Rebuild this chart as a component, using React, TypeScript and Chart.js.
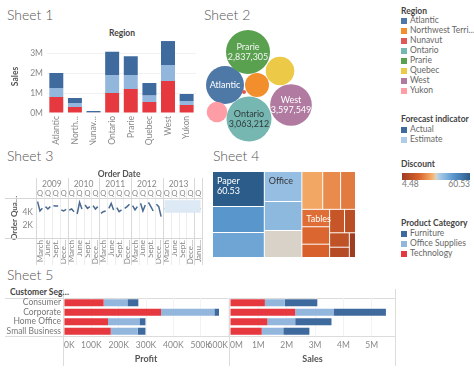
import React, { useEffect, useRef } from "react";
import { Chart, registerables } from "chart.js";
Chart.register(...registerables);

const FONT = "Lato, 'Open Sans', 'DejaVu Sans', sans-serif";
Chart.defaults.font.family = FONT;
Chart.defaults.color = "#888";

// ---------- colours ----------
const COLOR_TECH = "#e6393f";
const COLOR_OFFICE = "#93b6dd";
const COLOR_FURN = "#3f6a9e";
const regionColors = ["#4e79a7", "#f28e2b", "#e15759", "#76b7b2", "#59a14f", "#edc948", "#b07aa1", "#ff9da7"];

// ---------- Sheet 1 : sales by region ----------
const regionNames = ["Atlantic", "Northwest Territories", "Nunavut", "Ontario", "Prarie", "Quebec", "West", "Yukon"];
const regionLegendNames = ["Atlantic", "Northwest Terri…", "Nunavut", "Ontario", "Prarie", "Quebec", "West", "Yukon"];
const regionAxisLabels = ["Atlantic", "North…", "Nunav…", "Ontario", "Prarie", "Quebec", "West", "Yukon"];
const regionTechnology = [800000, 300000, 20000, 1000000, 1200000, 550000, 1600000, 400000];
const regionOfficeSupplies = [450000, 200000, 20000, 900000, 700000, 320000, 800000, 200000];
const regionFurniture = [750000, 250000, 60000, 1163212, 937305, 630000, 1197549, 350000];
const salesTicks = [0, 1000000, 2000000, 3000000];

// ---------- Sheet 2 : packed bubbles ----------
const bubbleSizeMeasure = [361, 144, 4, 506, 484, 204, 433, 106];
const bubblePackX = [25, 57, 44, 49, 48, 80, 91, 17];
const bubblePackY = [60, 60, 67, 94, 27, 46, 80, 87];
const bubbleLabelMode = ["name", "", "", "value", "value", "", "value", ""];
const bubbleTextColor = ["#fff", "#fff", "#fff", "#2f3b3b", "#f4f4f4", "#fff", "#fff", "#fff"];

// ---------- Sheet 3 : order quantity by month ----------
const orderYears = ["2009", "2010", "2011", "2012", "2013"];
const quarterHeaders = ["Q", "Q", "Q", "Q", "Q", "Q", "Q", "Q", "Q", "Q", "Q", "Q", "Q", "Q", "Q", "Q", "Q", "Q", "Q", "Q", "Q"];
const paneLabels = [
  "March", "June", "Sept.", "Dece…", "March", "June", "Sept.", "Dece…", "March", "June", "Sept.", "Dece…",
  "March", "June", "Sept.", "Dece…", "March", "June", "Sept.", "Dece…", "Janu…",
];
const orderQuantity = [
  5590, 4150, 4560, 4820, 4460, 4820, 4970, 4920, 4920, 4310, 4150, 4410,
  4310, 4460, 4050, 3690, 5490, 4460, 5080, 4560, 4820, 4970, 4460, 4820,
  3790, 4050, 4150, 4560, 5330, 4310, 4670, 4050, 4310, 4560, 4820, 5180,
  4970, 4310, 4820, 5330, 4150, 5080, 5490, 4820, 4150, 5180, 4820, 3280,
];
const forecastQuantity = [4520, 4500, 4510, 4500, 4490, 4500, 4510, 4500, 4500, 4500, 4510, 4500, 4500, 4500, 4500];
const forecastUpper = [5800, 5800, 5800, 5800, 5800, 5800, 5800, 5800, 5800, 5800, 5800, 5800, 5800, 5800, 5800];
const forecastLower = [3900, 3900, 3900, 3900, 3900, 3900, 3900, 3900, 3900, 3900, 3900, 3900, 3900, 3900, 3900];
const qtyTicks = [2000, 4000];

// ---------- Sheet 4 : treemap ----------
const treeLabels = ["Paper", "", "", "Office", "", "", "", "", "", "Tables", "", "", "", "", "", "", ""];
const treeSize = [1785, 1326, 1275, 1110, 1073, 999, 777, 666, 555, 476, 476, 364, 345, 253, 280, 200, 150];
const treeDiscount = [60.53, 47.1, 43.7, 38.1, 39.2, 32.5, 28.0, 24.1, 21.9, 20.2, 19.1, 17.9, 14.0, 11.2, 12.3, 10.1, 4.48];
const treeShowValue = [true, false, false, false, false, false, false, false, false, false, false, false, false, false, false, false, false];
const treeStructure: any = {
  dir: "h",
  kids: [
    { dir: "v", kids: [0, 1, 2] },
    { dir: "v", kids: [3, 4, 5] },
    {
      dir: "v",
      kids: [
        { dir: "h", kids: [6, 7, 8] },
        {
          dir: "h",
          kids: [
            { dir: "v", kids: [9, 10, 11] },
            { dir: "v", kids: [{ dir: "h", kids: [12, 13] }, { dir: "h", kids: [{ dir: "v", kids: [14, 15] }, 16] }] },
          ],
        },
      ],
    },
  ],
};
const discountStops = [0, 0.25, 0.45, 0.5, 0.55, 0.75, 1];
const discountStopColors = ["#9e3d22", "#d9622b", "#f7b46e", "#d8d2c8", "#a9cbe8", "#5b98cf", "#2b5c8a"];
const DISCOUNT_MIN = Math.min(...treeDiscount);
const DISCOUNT_MAX = Math.max(...treeDiscount);

// ---------- Sheet 5 : segments ----------
const segments = ["Consumer", "Corporate", "Home Office", "Small Business"];
const profitTechnology = [145000, 355000, 161000, 171000];
const profitOfficeSupplies = [87000, 195000, 115000, 99000];
const profitFurniture = [40000, 17000, 22000, 28000];
const salesTechnology = [1230000, 2300000, 1320000, 1120000];
const salesOfficeSupplies = [700000, 1350000, 980000, 760000];
const salesFurniture = [1150000, 1850000, 1280000, 920000];
const profitTicks = [0, 100000, 200000, 300000, 400000, 500000, 600000];
const segSalesTicks = [0, 1000000, 2000000, 3000000, 4000000, 5000000, 5820000];

// ---------- helpers ----------
function hexToRgb(h: string) {
  const n = parseInt(h.slice(1), 16);
  return [(n >> 16) & 255, (n >> 8) & 255, n & 255];
}
function discountColor(d: number) {
  const t = Math.max(0, Math.min(1, (d - DISCOUNT_MIN) / (DISCOUNT_MAX - DISCOUNT_MIN)));
  for (let i = 1; i < discountStops.length; i++) {
    if (t <= discountStops[i]) {
      const f = (t - discountStops[i - 1]) / (discountStops[i] - discountStops[i - 1]);
      const a = hexToRgb(discountStopColors[i - 1]);
      const b = hexToRgb(discountStopColors[i]);
      return `rgb(${a.map((v, k) => Math.round(v + (b[k] - v) * f)).join(",")})`;
    }
  }
  return discountStopColors[discountStopColors.length - 1];
}

function ChartCanvas({ left, top, width, height, config }: any) {
  const ref = useRef<HTMLCanvasElement>(null);
  useEffect(() => {
    const chart = new Chart(ref.current as HTMLCanvasElement, config());
    return () => chart.destroy();
  }, []);
  return <canvas ref={ref} width={width} height={height} style={{ position: "absolute", left, top, width, height }} />;
}

function T({ x, y, s = 9, w = 400, c = "#666", align = "left", children }: any) {
  const style: any = {
    position: "absolute",
    top: y - s * 0.56,
    fontSize: s,
    lineHeight: `${s}px`,
    fontWeight: w,
    color: c,
    whiteSpace: "nowrap",
    fontFamily: FONT,
  };
  if (align === "left") style.left = x;
  else if (align === "right") style.right = 474 - x;
  else {
    style.left = x;
    style.transform = "translateX(-50%)";
  }
  return <div style={style}>{children}</div>;
}

function Line({ x, y, w, h, c = "#dcdcdc" }: any) {
  return <div style={{ position: "absolute", left: x, top: y, width: w, height: h, background: c }} />;
}

const noPlugins = { legend: { display: false }, tooltip: { enabled: false } };
const TICK = 8.5;

// ---------- Sheet 1 ----------
const sheet1Config = () => ({
  type: "bar",
  data: {
    labels: regionAxisLabels,
    datasets: [
      { label: "Technology", data: regionTechnology, backgroundColor: COLOR_TECH },
      { label: "Office Supplies", data: regionOfficeSupplies, backgroundColor: COLOR_OFFICE },
      { label: "Furniture", data: regionFurniture, backgroundColor: COLOR_FURN },
    ],
  },
  options: {
    responsive: false,
    animation: false,
    layout: { padding: { top: 12, right: 3, left: 0, bottom: 0 }, autoPadding: false },
    plugins: noPlugins,
    datasets: { bar: { barPercentage: 0.75, categoryPercentage: 1 } },
    scales: {
      x: {
        stacked: true,
        grid: { display: false, drawTicks: false },
        border: { display: false },
        ticks: { autoSkip: false, minRotation: 90, maxRotation: 90, padding: 3, font: { size: TICK }, color: "#888" },
        afterFit: (s: any) => { s.height = 32; },
      },
      y: {
        stacked: true,
        min: 0,
        max: 3650000,
        afterBuildTicks: (s: any) => { s.ticks = salesTicks.map((v) => ({ value: v })); },
        ticks: { callback: (v: any) => v / 1e6 + "M", font: { size: TICK }, color: "#888", padding: 4 },
        grid: { color: (ctx: any) => (ctx.tick && ctx.tick.value > 0 ? "#f1f1f1" : "transparent"), drawTicks: false },
        border: { display: false },
        title: { display: true, text: "Sales", font: { size: 8.5, weight: "bold" }, color: "#555", padding: { top: 10, bottom: 0 } },
        afterFit: (s: any) => { s.width = 47; },
      },
    },
  },
});

// ---------- Sheet 2 ----------
const bubbleLabelPlugin = {
  id: "bubbleLabels",
  afterDatasetsDraw(chart: any) {
    const { ctx } = chart;
    const meta = chart.getDatasetMeta(0);
    ctx.save();
    ctx.textAlign = "center";
    ctx.textBaseline = "middle";
    ctx.font = `9px ${FONT}`;
    meta.data.forEach((el: any, i: number) => {
      const mode = bubbleLabelMode[i];
      if (!mode) return;
      ctx.fillStyle = bubbleTextColor[i];
      if (mode === "name") {
        ctx.fillText(regionNames[i], el.x, el.y);
      } else {
        const total = regionTechnology[i] + regionOfficeSupplies[i] + regionFurniture[i];
        ctx.fillText(regionNames[i], el.x, el.y - 5);
        ctx.fillText(total.toLocaleString("en-US"), el.x, el.y + 5.5);
      }
    });
    ctx.restore();
  },
};
const sheet2Config = () => ({
  type: "bubble",
  data: {
    datasets: [
      {
        data: regionNames.map((_, i) => ({ x: bubblePackX[i], y: bubblePackY[i], r: Math.sqrt(bubbleSizeMeasure[i]) })),
        backgroundColor: regionColors,
        borderWidth: 0,
        clip: false,
      },
    ],
  },
  options: {
    responsive: false,
    animation: false,
    layout: { padding: 0, autoPadding: false },
    plugins: noPlugins,
    scales: {
      x: { type: "linear", min: 0, max: 170, display: false },
      y: { type: "linear", min: 0, max: 120, reverse: true, display: false },
    },
  },
  plugins: [bubbleLabelPlugin],
});

// ---------- Sheet 3 ----------
const sheet3Decor = {
  id: "sheet3Decor",
  beforeDatasetsDraw(chart: any) {
    const { ctx, chartArea: a } = chart;
    const x = chart.scales.x;
    ctx.save();
    ctx.lineWidth = 1;
    for (let i = 0; i <= paneLabels.length; i++) {
      const px = Math.round(x.getPixelForValue(i)) + 0.5;
      const isYear = i % 4 === 0 || i === paneLabels.length;
      ctx.strokeStyle = isYear ? "#d9d9d9" : "#ededed";
      ctx.beginPath();
      ctx.moveTo(px, isYear ? 13 : 23);
      ctx.lineTo(px, chart.height);
      ctx.stroke();
    }
    ctx.strokeStyle = "#d6d6d6";
    [a.top, a.bottom].forEach((yy: number) => {
      const py = Math.round(yy) + 0.5;
      ctx.beginPath();
      ctx.moveTo(5, py);
      ctx.lineTo(a.right, py);
      ctx.stroke();
    });
    ctx.textAlign = "center";
    ctx.textBaseline = "middle";
    ctx.fillStyle = "#555";
    ctx.font = `bold 8.5px ${FONT}`;
    ctx.fillText("Order Date", (a.left + a.right) / 2, 9);
    ctx.font = `8.5px ${FONT}`;
    ctx.fillStyle = "#888";
    orderYears.forEach((yr, j) => ctx.fillText(yr, x.getPixelForValue(j * 4 + 2), 19.5));
    ctx.font = `7.5px ${FONT}`;
    quarterHeaders.forEach((q, i) => ctx.fillText(q, x.getPixelForValue(i + 0.5), 28.5));
    ctx.restore();
  },
};
const sheet3Config = () => {
  const actual: any[] = [];
  orderQuantity.forEach((v, i) => {
    const p = Math.floor(i / 3);
    const m = i % 3;
    actual.push({ x: p + 0.2 + m * 0.3, y: v });
    if (m === 2) actual.push({ x: p + 0.95, y: null });
  });
  const fx = (i: number) => 16 + Math.floor(i / 3) + 0.2 + (i % 3) * 0.3;
  const fLine = forecastQuantity.map((v, i) => ({ x: fx(i), y: v }));
  const fUp = forecastUpper.map((v, i) => ({ x: fx(i), y: v }));
  const fLo = forecastLower.map((v, i) => ({ x: fx(i), y: v }));
  return {
    type: "line",
    data: {
      datasets: [
        { data: fLo, borderWidth: 0, pointRadius: 0, fill: false, borderColor: "transparent" },
        { data: fUp, borderWidth: 0, pointRadius: 0, fill: "-1", backgroundColor: "#dde9f5", borderColor: "transparent" },
        { data: fLine, borderColor: "#8fb3d9", borderWidth: 1.5, borderDash: [3, 2], pointRadius: 0, fill: false },
        { data: actual, borderColor: "#4a6a8f", borderWidth: 1.5, pointRadius: 0, spanGaps: false, fill: false },
      ],
    },
    options: {
      responsive: false,
      animation: false,
      layout: { padding: { top: 33, right: 2, left: 0, bottom: 0 }, autoPadding: false },
      plugins: noPlugins,
      scales: {
        x: {
          type: "linear",
          min: 0,
          max: paneLabels.length,
          afterBuildTicks: (s: any) => { s.ticks = paneLabels.map((_, i) => ({ value: i + 0.5 })); },
          ticks: {
            autoSkip: false,
            minRotation: 90,
            maxRotation: 90,
            padding: 2,
            font: { size: 8 },
            color: "#888",
            callback: (_v: any, i: number) => paneLabels[i],
          },
          grid: { display: false, drawTicks: false },
          border: { display: false },
          afterFit: (s: any) => { s.height = 27; },
        },
        y: {
          min: 0,
          max: 6150,
          afterBuildTicks: (s: any) => { s.ticks = qtyTicks.map((v) => ({ value: v })); },
          ticks: { callback: (v: any) => v / 1000 + "K", font: { size: TICK }, color: "#888", padding: 3 },
          grid: { display: false, drawTicks: false },
          border: { display: false },
          title: { display: true, text: "Order Qua…", font: { size: 8, weight: "bold" }, color: "#555", padding: { top: 10, bottom: 0 } },
          afterFit: (s: any) => { s.width = 36; },
        },
      },
    },
    plugins: [sheet3Decor],
  };
};

// ---------- Sheet 4 ----------
function sumNode(n: any): number {
  return typeof n === "number" ? treeSize[n] : n.kids.reduce((a: number, k: any) => a + sumNode(k), 0);
}
function layoutNode(n: any, x0: number, y0: number, x1: number, y1: number, out: any[]) {
  if (typeof n === "number") {
    out.push({ i: n, x0, y0, x1, y1 });
    return;
  }
  const total = sumNode(n);
  let acc = 0;
  n.kids.forEach((k: any) => {
    const f0 = acc / total;
    acc += sumNode(k);
    const f1 = acc / total;
    if (n.dir === "h") layoutNode(k, x0 + (x1 - x0) * f0, y0, x0 + (x1 - x0) * f1, y1, out);
    else layoutNode(k, x0, y0 + (y1 - y0) * f0, x1, y0 + (y1 - y0) * f1, out);
  });
}
const treemapPlugin = {
  id: "treemap",
  afterDatasetsDraw(chart: any) {
    const { ctx } = chart;
    const xs = chart.scales.x;
    const ys = chart.scales.y;
    const cells: any[] = [];
    layoutNode(treeStructure, 0, 0, 100, 100, cells);
    ctx.save();
    cells.forEach((c) => {
      const px0 = xs.getPixelForValue(c.x0);
      const px1 = xs.getPixelForValue(c.x1);
      const py0 = ys.getPixelForValue(c.y0);
      const py1 = ys.getPixelForValue(c.y1);
      ctx.fillStyle = discountColor(treeDiscount[c.i]);
      ctx.fillRect(px0, py0, px1 - px0 - 1, py1 - py0 - 1);
    });
    ctx.textAlign = "left";
    ctx.textBaseline = "middle";
    ctx.font = `9px ${FONT}`;
    cells.forEach((c) => {
      const label = treeLabels[c.i];
      if (!label) return;
      const px0 = xs.getPixelForValue(c.x0);
      const py0 = ys.getPixelForValue(c.y0);
      const t = (treeDiscount[c.i] - DISCOUNT_MIN) / (DISCOUNT_MAX - DISCOUNT_MIN);
      ctx.fillStyle = t > 0.52 && t < 0.72 ? "#333" : "#fff";
      ctx.fillText(label, px0 + 4, py0 + 9);
      if (treeShowValue[c.i]) ctx.fillText(treeDiscount[c.i].toFixed(2), px0 + 4, py0 + 19);
    });
    ctx.restore();
  },
};
const sheet4Config = () => ({
  type: "scatter",
  data: { datasets: [] },
  options: {
    responsive: false,
    animation: false,
    layout: { padding: { left: 3, right: 14, top: 7, bottom: 7 }, autoPadding: false },
    plugins: noPlugins,
    scales: {
      x: { type: "linear", min: 0, max: 100, display: false },
      y: { type: "linear", min: 0, max: 100, reverse: true, display: false },
    },
  },
  plugins: [treemapPlugin],
});

// ---------- Sheet 5 ----------
const sheet5ProfitConfig = () => ({
  type: "bar",
  data: {
    labels: segments,
    datasets: [
      { label: "Technology", data: profitTechnology, backgroundColor: COLOR_TECH },
      { label: "Office Supplies", data: profitOfficeSupplies, backgroundColor: COLOR_OFFICE },
      { label: "Furniture", data: profitFurniture, backgroundColor: COLOR_FURN },
    ],
  },
  options: {
    indexAxis: "y",
    responsive: false,
    animation: false,
    layout: { padding: { top: 13, right: 3, left: 0, bottom: 0 }, autoPadding: false },
    plugins: noPlugins,
    datasets: { bar: { barPercentage: 0.74, categoryPercentage: 1 } },
    scales: {
      x: {
        stacked: true,
        min: 0,
        max: 600000,
        afterBuildTicks: (s: any) => { s.ticks = profitTicks.map((v) => ({ value: v })); },
        ticks: { callback: (v: any) => v / 1000 + "K", align: "inner", font: { size: TICK }, color: "#888", padding: 4 },
        grid: { color: "#f3f3f3", drawTicks: false },
        border: { display: false },
        title: { display: true, text: "Profit", font: { size: 9, weight: "bold" }, color: "#555", padding: { top: 0, bottom: 13 } },
        afterFit: (s: any) => { s.height = 41; },
      },
      y: {
        stacked: true,
        grid: { display: false, drawTicks: false },
        border: { display: false },
        ticks: { autoSkip: false, font: { size: 8.5 }, color: "#777", padding: 3 },
        afterFit: (s: any) => { s.width = 64; },
      },
    },
  },
});
const sheet5SalesConfig = () => ({
  type: "bar",
  data: {
    labels: segments,
    datasets: [
      { label: "Technology", data: salesTechnology, backgroundColor: COLOR_TECH },
      { label: "Office Supplies", data: salesOfficeSupplies, backgroundColor: COLOR_OFFICE },
      { label: "Furniture", data: salesFurniture, backgroundColor: COLOR_FURN },
    ],
  },
  options: {
    indexAxis: "y",
    responsive: false,
    animation: false,
    layout: { padding: { top: 13, right: 11, left: 3, bottom: 0 }, autoPadding: false },
    plugins: noPlugins,
    datasets: { bar: { barPercentage: 0.74, categoryPercentage: 1 } },
    scales: {
      x: {
        stacked: true,
        min: 0,
        max: segSalesTicks[segSalesTicks.length - 1],
        afterBuildTicks: (s: any) => { s.ticks = segSalesTicks.map((v) => ({ value: v })); },
        ticks: {
          callback: (v: any, i: number) => (i === segSalesTicks.length - 1 ? "" : v / 1e6 + "M"),
          align: "inner",
          font: { size: TICK },
          color: "#888",
          padding: 4,
        },
        grid: { color: (ctx: any) => (ctx.index === segSalesTicks.length - 1 || ctx.index === 0 ? "transparent" : "#f3f3f3"), drawTicks: false },
        border: { display: false },
        title: { display: true, text: "Sales", font: { size: 9, weight: "bold" }, color: "#555", padding: { top: 0, bottom: 13 } },
        afterFit: (s: any) => { s.height = 41; },
      },
      y: { stacked: true, display: false },
    },
  },
});

// ---------- legends ----------
const LEG = 8.5;
function LegendItem({ y, color, label }: any) {
  return (
    <>
      <div style={{ position: "absolute", left: 401, top: y - 3, width: 6, height: 6, background: color }} />
      <T x={410} y={y} s={LEG} c="#666">{label}</T>
    </>
  );
}

export default function App() {
  const gradient = `linear-gradient(to right, ${discountStopColors.map((c, i) => `${c} ${discountStops[i] * 100}%`).join(", ")})`;
  return (
    <div style={{ position: "absolute", left: 0, top: 0, width: 474, height: 377, overflow: "hidden", background: "#fff", fontFamily: FONT }}>
      {/* titles */}
      <T x={7} y={16} s={14} w={300} c="#555">Sheet 1</T>
      <T x={204} y={16} s={14} w={300} c="#555">Sheet 2</T>
      <T x={7} y={157} s={14} w={300} c="#555">Sheet 3</T>
      <T x={213} y={157} s={14} w={300} c="#555">Sheet 4</T>
      <T x={7} y={276} s={14} w={300} c="#555">Sheet 5</T>

      {/* sheet 1 */}
      <T x={122} y={34} s={8.5} w={700} c="#444" align="center">Region</T>
      <ChartCanvas left={0} top={28} width={200} height={117} config={sheet1Config} />

      {/* sheet 2 */}
      <ChartCanvas left={200} top={25} width={170} height={120} config={sheet2Config} />

      {/* legends */}
      <T x={401} y={12} s={LEG} w={700} c="#444">Region</T>
      {regionLegendNames.map((n, i) => (
        <LegendItem key={n} y={21 + i * 10} color={regionColors[i]} label={n} />
      ))}
      <T x={401} y={119.5} s={LEG} w={700} c="#444">Forecast indicator</T>
      <LegendItem y={130} color={COLOR_FURN} label="Actual" />
      <LegendItem y={140} color="#aecbe8" label="Estimate" />
      <T x={401} y={165} s={LEG} w={700} c="#444">Discount</T>
      <div style={{ position: "absolute", left: 402, top: 173, width: 68, height: 7, background: gradient }} />
      <T x={402} y={185} s={LEG} c="#777">{DISCOUNT_MIN.toFixed(2)}</T>
      <T x={470} y={185} s={LEG} c="#777" align="right">{DISCOUNT_MAX.toFixed(2)}</T>
      <T x={401} y={223.5} s={LEG} w={700} c="#444">Product Category</T>
      <LegendItem y={233.5} color={COLOR_FURN} label="Furniture" />
      <LegendItem y={243.5} color={COLOR_OFFICE} label="Office Supplies" />
      <LegendItem y={253.5} color={COLOR_TECH} label="Technology" />

      {/* sheet 3 */}
      <ChartCanvas left={0} top={165} width={210} height={100} config={sheet3Config} />

      {/* sheet 4 */}
      <ChartCanvas left={210} top={165} width={160} height={100} config={sheet4Config} />

      {/* sheet 5 */}
      <Line x={5} y={298} w={390} h={1} />
      <Line x={5} y={336} w={390} h={1} />
      <Line x={63} y={289} w={1} h={77} />
      <Line x={229} y={298} w={1} h={68} />
      <Line x={395} y={289} w={1} h={77} />
      <T x={10} y={293} s={8.5} w={700} c="#444">Customer Seg…</T>
      <ChartCanvas left={0} top={285} width={232} height={92} config={sheet5ProfitConfig} />
      <ChartCanvas left={226} top={285} width={180} height={92} config={sheet5SalesConfig} />
    </div>
  );
}
